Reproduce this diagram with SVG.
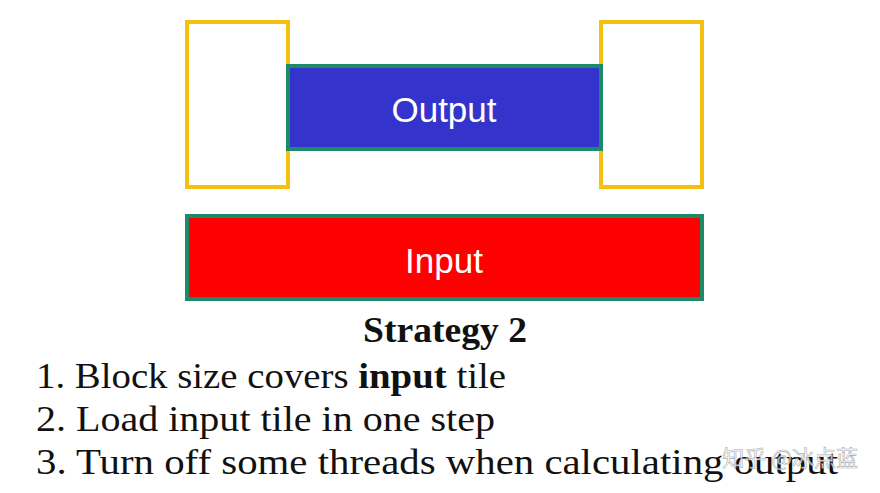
<svg xmlns="http://www.w3.org/2000/svg" width="880" height="493" viewBox="0 0 880 493">
<style>
.y{fill:#fff;stroke:#f5c010;stroke-width:4}
.g{stroke:#1f8a6a;stroke-width:4}
.w{fill:#fff;font-family:"Liberation Sans",Arial,sans-serif;font-size:35px;text-anchor:middle}
.s{fill:#111;font-family:"Liberation Serif","Times New Roman",serif;font-size:35px}
</style>
<rect width="880" height="493" fill="#fff"/>
<g id="left"><rect class="y" x="187" y="22" width="101" height="165"/></g>
<g id="right"><rect class="y" x="601" y="22" width="101" height="165"/></g>
<g id="output"><rect class="g" x="288" y="66" width="313" height="83" fill="#3434cc"/><text class="w" x="444" y="122">Output</text></g>
<g id="input"><rect class="g" x="187" y="216" width="515" height="83" fill="#ff0000"/><text class="w" x="444" y="273">Input</text></g>
<g id="connectors"></g>
<text class="s" x="363" y="342" font-weight="bold" textLength="164" lengthAdjust="spacingAndGlyphs">Strategy 2</text>
<text class="s" x="36" y="388" textLength="470" lengthAdjust="spacingAndGlyphs">1. Block size covers <tspan font-weight="bold">input</tspan> tile</text>
<text class="s" x="36" y="431" textLength="459" lengthAdjust="spacingAndGlyphs">2. Load input tile in one step</text>
<text class="s" x="36" y="474" textLength="802" lengthAdjust="spacingAndGlyphs">3. Turn off some threads when calculating output</text>
<text x="858" y="466" text-anchor="end" font-family="'Noto Sans CJK SC',sans-serif" font-size="22" fill="#fff" stroke="#999" stroke-width="0.6" opacity="0.8">知乎 @冰点蓝</text>
</svg>
